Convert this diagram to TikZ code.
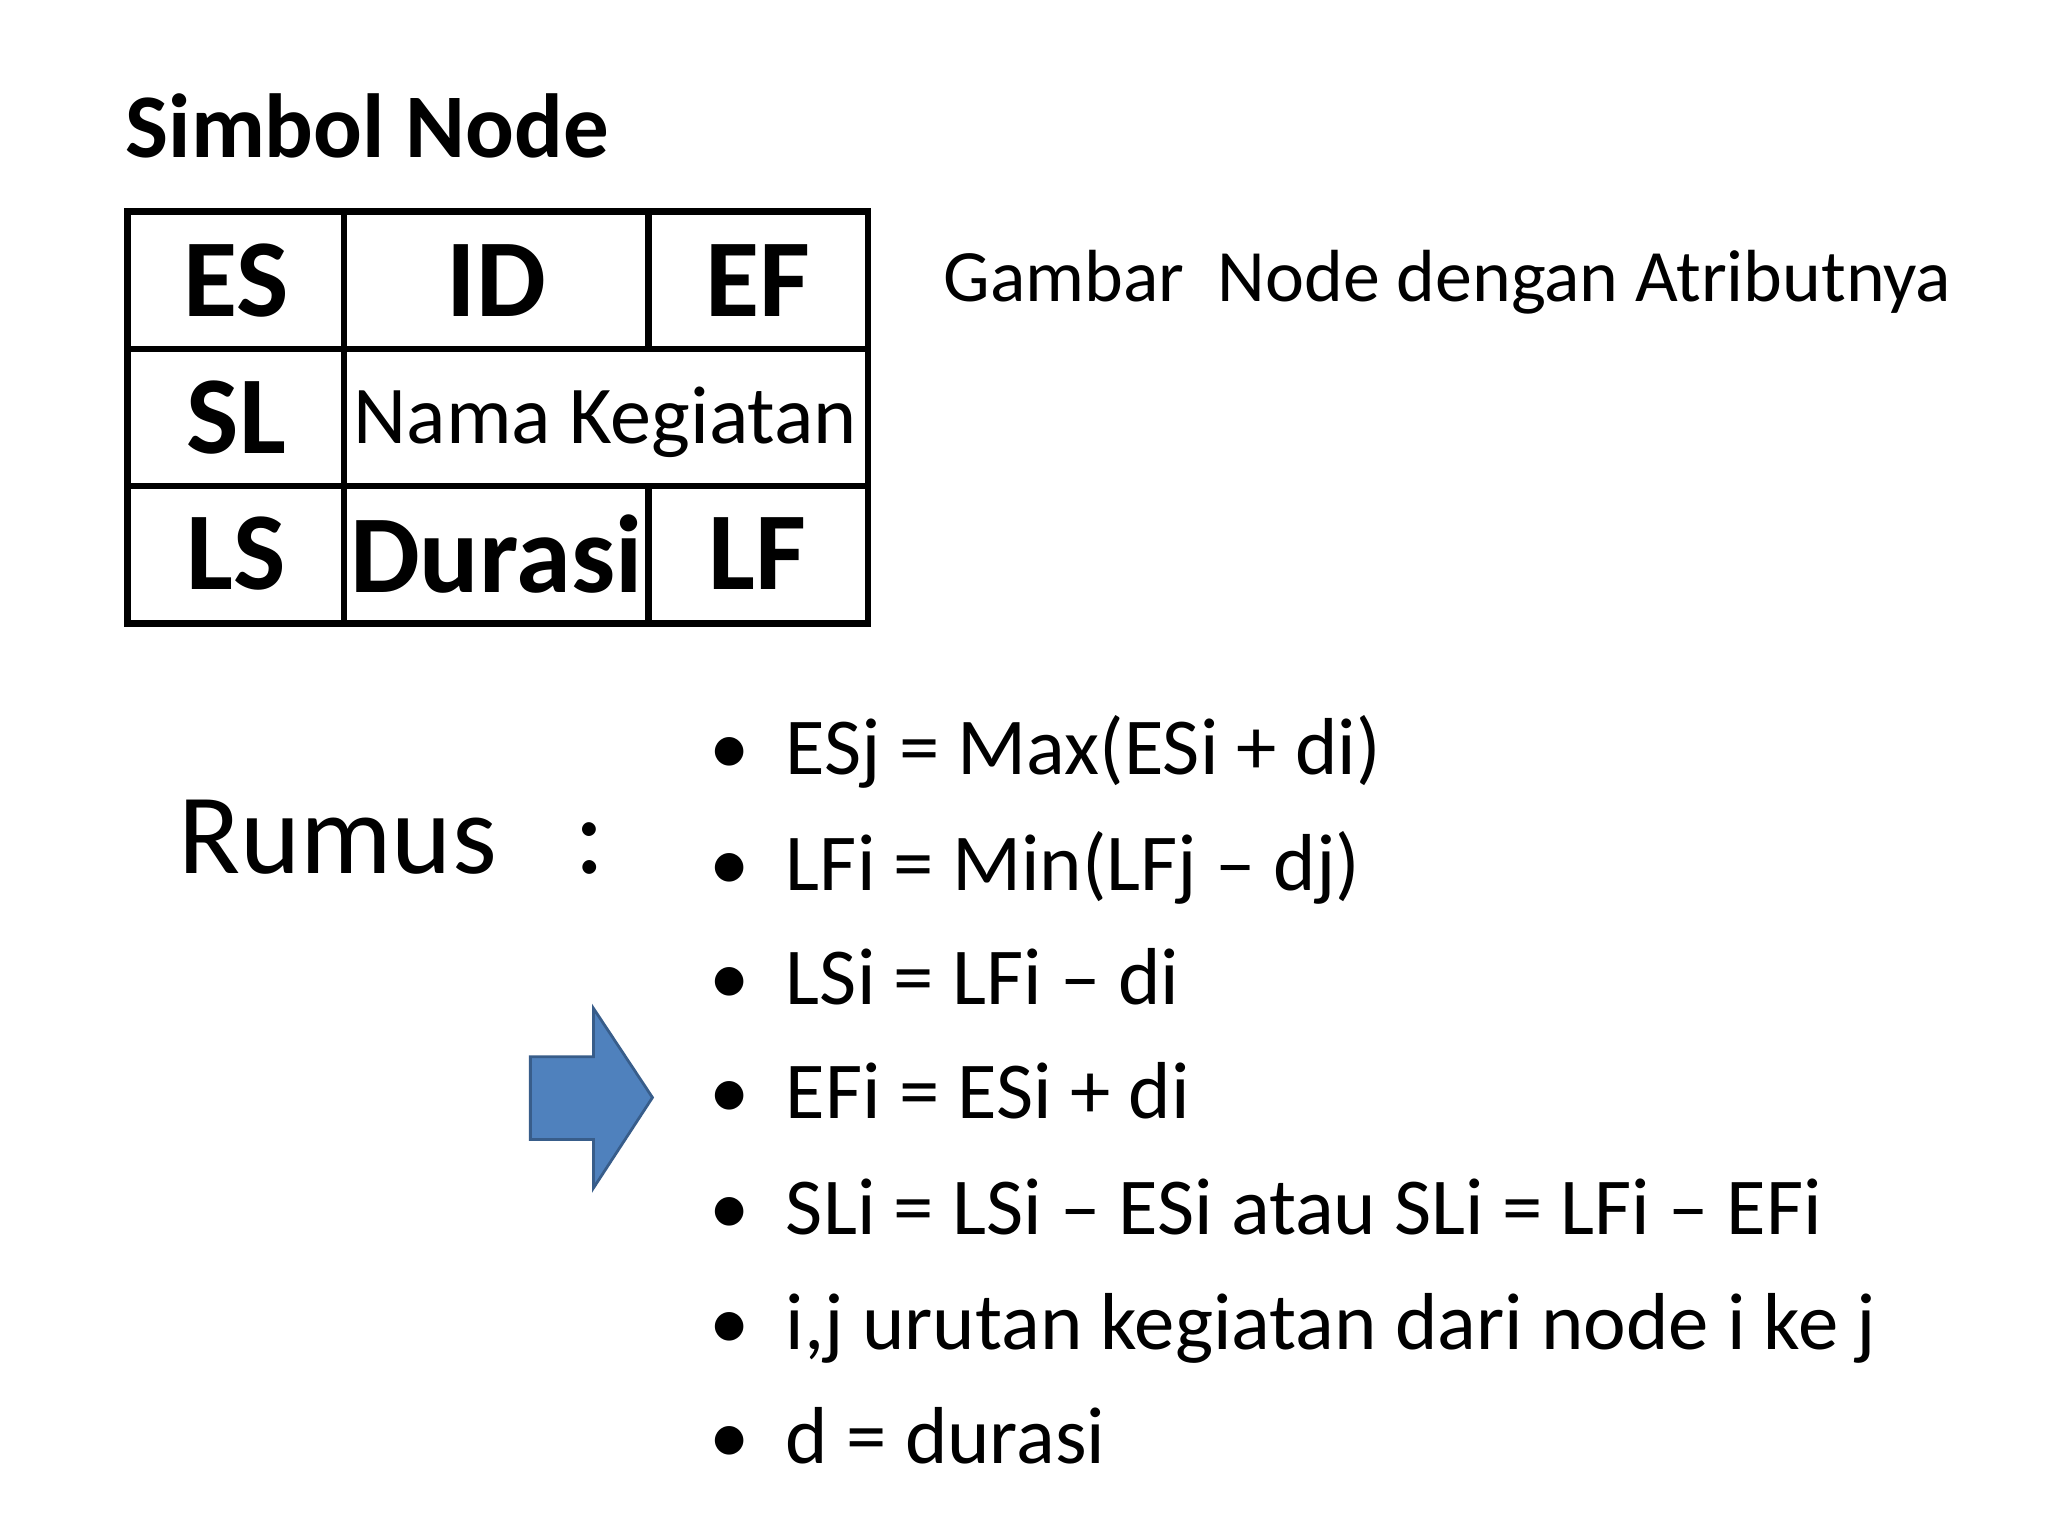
\documentclass[tikz,border=0pt]{standalone}
\usepackage{fontspec}
\setmainfont{Carlito}
\begin{document}
\begin{tikzpicture}[x=0.01cm,y=-0.01cm,
  cell/.style={font=\fontsize{24}{28}\selectfont\bfseries},
  bul/.style={anchor=base west,inner sep=0pt,font=\fontsize{17.5}{21}\selectfont}]
\useasboundingbox (0,0) rectangle (1560,1170);
\fill[white] (0,0) rectangle (1560,1170);
\node[anchor=base west,inner sep=0pt,font=\fontsize{19.7}{24}\selectfont\bfseries] (title) at (95,120) {Simbol Node};
\draw[line width=1.4pt] (97,161) rectangle (661,475);
\draw[line width=1.4pt] (262,161) -- (262,475) (494,161) -- (494,266) (494,370) -- (494,475)
  (97,266) -- (661,266) (97,370) -- (661,370);
\node[cell] (es) at (180,214) {ES};
\node[cell] (id) at (378,214) {ID};
\node[cell] (ef) at (577,214) {EF};
\node[cell] (sl) at (180,318) {SL};
\node[font=\fontsize{17.8}{20}\selectfont] (nk) at (461,322) {Nama Kegiatan};
\node[cell] (ls) at (180,422) {LS};
\node[cell] (du) at (378,422) {Durasi};
\node[cell] (lf) at (577,422) {LF};
\node[anchor=base west,inner sep=0pt,font=\fontsize{16}{20}\selectfont] (gam) at (718,230) {Gambar\ \ Node dengan Atributnya};
\node[anchor=base west,inner sep=0pt,font=\fontsize{24.8}{30}\selectfont] (rum) at (135,665) {Rumus\ \ \ :};
\draw[fill={rgb,255:red,79;green,129;blue,189}, draw={rgb,255:red,56;green,93;blue,138}, line width=0.6pt]
  (404,805) -- (452,805) -- (452,768) -- (497,836) -- (452,905) -- (452,868) -- (404,868) -- cycle;
\foreach \y/\t [count=\i] in {590/{ESj = Max(ESi + di)},678/{LFi = Min(LFj -- dj)},765/{LSi = LFi -- di},852/{EFi = ESi + di},940/{SLi = LSi -- ESi atau SLi = LFi -- EFi},1028/{i,j urutan kegiatan dari node i ke j},1115/{d = durasi}}{
  \node[bul] (b\i) at (540,\y) {•};
  \node[bul] (t\i) at (598,\y) {\t};
}
\end{tikzpicture}
\end{document}
